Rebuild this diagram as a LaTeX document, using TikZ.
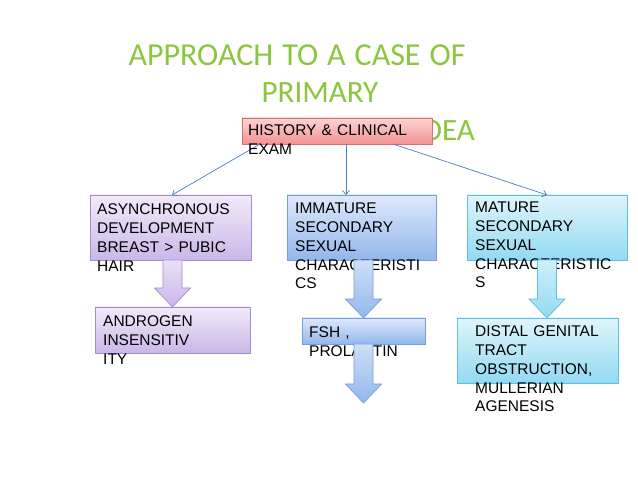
\documentclass[tikz,border=0pt]{standalone}
\usepackage{fontspec}
\setmainfont{Liberation Sans}
\newfontfamily\titlefont{Carlito}
\usetikzlibrary{shadows,arrows.meta,calc}
\definecolor{titlegreen}{RGB}{140,198,63}
\definecolor{connblue}{RGB}{74,126,187}
\definecolor{redtop}{RGB}{253,212,212}
\definecolor{redbot}{RGB}{242,146,146}
\definecolor{redline}{RGB}{214,112,112}
\definecolor{purtop}{RGB}{242,234,250}
\definecolor{purbot}{RGB}{203,183,232}
\definecolor{purline}{RGB}{165,140,204}
\definecolor{blutop}{RGB}{222,233,251}
\definecolor{blubot}{RGB}{146,183,236}
\definecolor{bluline}{RGB}{118,158,220}
\definecolor{cyatop}{RGB}{224,245,252}
\definecolor{cyabot}{RGB}{146,218,242}
\definecolor{cyaline}{RGB}{96,190,224}
\newcommand{\blockdown}[3]{%
  \path[#1] let \p1=(#2), \p2=(#3) in
    (\x2-9.5pt,\y1) -- (\x2-9.5pt,\y2+19pt) -- (\x2-18pt,\y2+19pt) -- (\x2,\y2)
    -- (\x2+18pt,\y2+19pt) -- (\x2+9.5pt,\y2+19pt) -- (\x2+9.5pt,\y1) -- cycle;}
\begin{document}
\begin{tikzpicture}[x=1pt,y=-1pt,
  boxbase/.style={rectangle, inner sep=0pt, outer sep=0pt, line width=0.7pt,
    drop shadow={shadow xshift=1.2pt, shadow yshift=-1.5pt, opacity=0.25, fill=black!60}},
  redbox/.style={boxbase, draw=redline, top color=redtop, bottom color=redbot},
  purbox/.style={boxbase, draw=purline, top color=purtop, bottom color=purbot},
  blubox/.style={boxbase, draw=bluline, top color=blutop, bottom color=blubot},
  cyabox/.style={boxbase, draw=cyaline, top color=cyatop, bottom color=cyabot},
  txt/.style={anchor=base west, inner sep=0pt, text width=200pt, align=left,
    font=\fontsize{15.5}{18.75}\selectfont, text=black},
  ttl/.style={inner sep=0pt, text=titlegreen, font=\titlefont\fontsize{31}{37}\selectfont},
  conn/.style={draw=connblue, line width=0.7pt, -{Straight Barb[length=4pt,width=7pt]}},
  parrow/.style={draw=purline, line width=0.7pt, top color=purtop!80!purbot, bottom color=purbot},
  barrow/.style={draw=bluline, line width=0.7pt, top color=blutop!80!blubot, bottom color=blubot},
  carrow/.style={draw=cyaline, line width=0.7pt, top color=cyatop!80!cyabot, bottom color=cyabot}]
\useasboundingbox (0,0) rectangle (638,478);
\fill[white] (0,0) rectangle (638,478);

% title
\node[ttl, anchor=base, font=\titlefont\fontsize{32}{37}\selectfont] (t1) at (297,66) {APPROACH\hspace{9pt}TO\hspace{9pt}A\hspace{9pt}CASE\hspace{9pt}OF};
\node[ttl, anchor=base] (t2) at (320,103) {PRIMARY};
\node[ttl, anchor=base east] (t3) at (475,141) {AMENORRHOEA};

% boxes
\node[redbox, minimum width=190pt, minimum height=26pt] (H) at (337,131) {};
\node[purbox, minimum width=161pt, minimum height=65pt] (A) at (170.5,227.5) {};
\node[blubox, minimum width=149pt, minimum height=65pt] (B) at (361.5,227.5) {};
\node[cyabox, minimum width=160pt, minimum height=65pt] (C) at (547,227.5) {};
\node[purbox, minimum width=155pt, minimum height=46pt] (D) at (172.5,330) {};
\node[blubox, minimum width=123pt, minimum height=26pt] (E) at (363.5,331) {};
\node[cyabox, minimum width=161pt, minimum height=65pt] (F) at (537.5,350.5) {};
\coordinate (Eout) at (363.5,403);

% connectors
\draw[conn] ([xshift=18pt]H.south west) -- ([xshift=82pt]A.north west);
\draw[conn] ([xshift=9pt]H.south) -- ([xshift=9pt]H.south |- B.north);
\draw[conn] ([xshift=-39pt]H.south east) -- ([xshift=80pt]C.north west);

% texts
\node[txt] (Ht) at (248,136) {HISTORY \& CLINICAL\\EXAM};
\node[txt] (At) at (97,215) {ASYNCHRONOUS\\DEVELOPMENT\\BREAST > PUBIC\\HAIR};
\node[txt] (Bt) at (295,214) {IMMATURE\\SECONDARY\\SEXUAL\\CHARACTERISTI\\CS};
\node[txt] (Ct) at (475,213) {MATURE\\SECONDARY\\SEXUAL\\CHARACTERISTIC\\S};
\node[txt] (Dt) at (103,327) {ANDROGEN\\INSENSITIV\\ITY};
\node[txt] (Et) at (309,338) {FSH ,\\PROLACTIN};
\node[txt] (Ft) at (475,337) {DISTAL GENITAL\\TRACT\\OBSTRUCTION,\\MULLERIAN\\AGENESIS};

% block arrows
\blockdown{parrow}{A.south}{D.north}
\blockdown{barrow}{B.south}{E.north}
\blockdown{barrow}{E.south}{Eout}
\blockdown{carrow}{C.south}{C.south |- F.north}
\end{tikzpicture}
\end{document}
